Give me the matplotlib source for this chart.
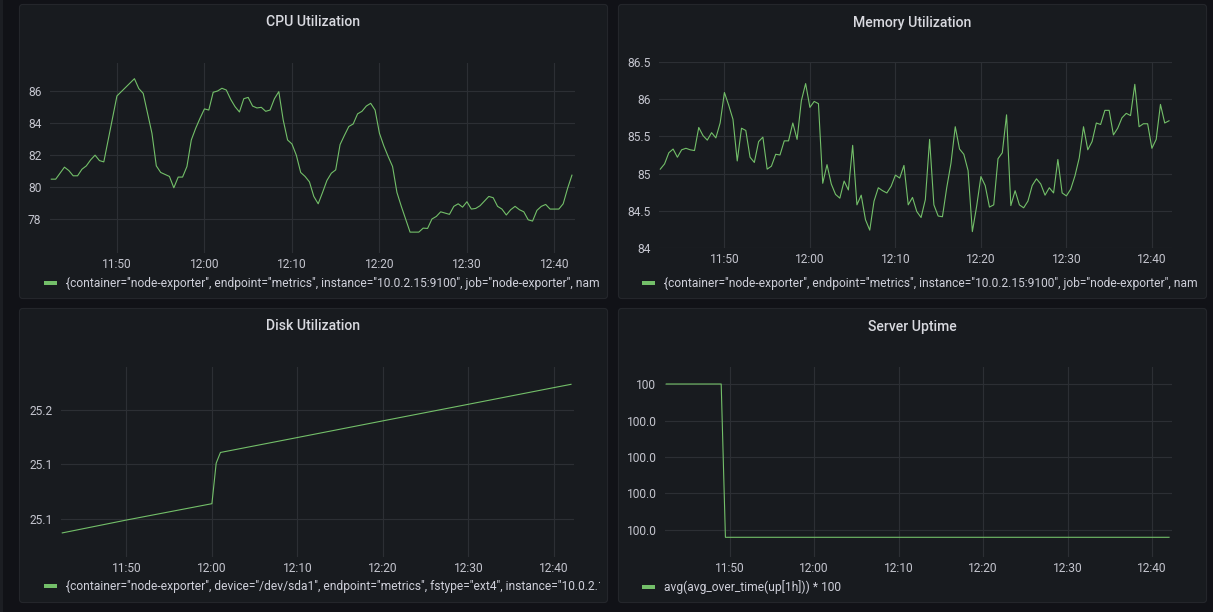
import datetime as dt
import matplotlib
matplotlib.use("Agg")
import matplotlib.pyplot as plt
import matplotlib.dates as mdates
from matplotlib.patches import FancyBboxPatch, Rectangle
from matplotlib.ticker import FuncFormatter, FixedLocator
from matplotlib.transforms import Bbox

# ---------------- data ----------------
day = dt.datetime(2023, 1, 1)
range_start = "11:42:21"
range_end = "12:42:21"
series_start = "11:42:30"
sample_step_s = 30

# CPU utilization (minutes after series start, value %)
cpu_minutes = [0, 0.5, 1.5, 2, 2.5, 3, 3.5, 4, 4.5, 5, 5.5, 6, 7.5, 8.5, 9.5, 10, 10.5, 11.5,
               12, 12.5, 13.5, 14, 14.5, 15, 15.5, 16, 16.5, 17, 17.5, 18, 18.5, 19, 19.5,
               20, 20.5, 21, 21.5, 22, 22.5, 23, 23.5, 24, 24.5, 25, 25.5, 26, 26.5, 27,
               27.5, 28, 28.5, 29, 29.5, 30, 30.5, 31, 31.5, 32, 32.5, 33, 33.5, 34, 34.5,
               35, 35.5, 36, 36.5, 37, 37.5, 38, 38.5, 39, 39.5, 40, 41, 42, 42.5, 43, 43.5,
               44, 44.5, 45, 45.5, 46, 46.5, 47, 47.5, 48, 48.5, 49, 49.5, 50, 50.5, 51,
               51.5, 52, 52.5, 53, 53.5, 54, 54.5, 55, 55.5, 56, 56.5, 57, 57.5, 58, 58.5,
               59, 59.5]
cpu_values = [80.49, 80.49, 81.24, 81.03, 80.70, 80.70, 81.11, 81.32, 81.70, 81.99, 81.65, 81.57,
              85.69, 86.23, 86.77, 86.15, 85.85, 83.36, 81.32, 80.91, 80.66, 79.95, 80.62,
              80.62, 81.28, 82.94, 83.67, 84.30, 84.88, 84.81, 85.92, 86.00, 86.17, 86.06,
              85.48, 85.02, 84.69, 85.52, 85.60, 85.06, 84.94, 84.98, 84.73, 84.81, 85.52,
              85.96, 84.19, 82.94, 82.69, 81.99, 80.91, 80.66, 80.32, 79.41, 78.95, 79.66,
              80.41, 80.86, 81.07, 82.65, 83.23, 83.78, 83.94, 84.57, 84.73, 85.06, 85.23,
              84.81, 83.36, 82.57, 81.90, 81.28, 79.66, 78.79, 77.18, 77.18, 77.43, 77.41,
              78.00, 78.16, 78.45, 78.37, 78.29, 78.79, 78.95, 78.74, 79.08, 78.62, 78.66,
              78.83, 79.12, 79.41, 79.33, 78.79, 78.62, 78.25, 78.58, 78.79, 78.58, 78.45,
              77.95, 77.87, 78.54, 78.79, 78.91, 78.62, 78.62, 78.62, 78.95, 79.91, 80.74]

# Memory utilization (one sample every 30 s from series start)
mem_values = [85.06, 85.13, 85.28, 85.33, 85.22, 85.32, 85.34, 85.32, 85.31, 85.62,
              85.51, 85.45, 85.55, 85.48, 85.68, 86.09, 85.92, 85.73, 85.17, 85.61,
              85.58, 85.22, 85.15, 85.43, 85.49, 85.06, 85.10, 85.26, 85.25, 85.44,
              85.44, 85.68, 85.46, 85.98, 86.21, 85.89, 85.97, 85.94, 84.87, 85.12,
              84.86, 84.72, 84.67, 84.90, 84.78, 85.38, 84.58, 84.71, 84.38, 84.24,
              84.63, 84.81, 84.77, 84.74, 84.83, 84.98, 84.94, 85.11, 84.58, 84.68,
              84.49, 84.41, 84.65, 85.46, 84.58, 84.43, 84.42, 84.81, 85.14, 85.63,
              85.33, 85.26, 85.04, 84.22, 84.56, 84.96, 84.84, 84.55, 84.58, 85.20,
              85.28, 85.79, 84.57, 84.77, 84.58, 84.54, 84.63, 84.84, 84.93, 84.86,
              84.71, 84.81, 84.74, 85.19, 84.74, 84.70, 84.79, 84.97, 85.21, 85.63,
              85.32, 85.43, 85.68, 85.66, 85.85, 85.85, 85.52, 85.61, 85.75, 85.81,
              85.78, 86.20, 85.63, 85.67, 85.67, 85.34, 85.46, 85.93, 85.68, 85.71]

# Disk utilization (minutes after series start, value %)
disk_minutes = [0, 7.5, 17.5, 18, 18.5, 27.5, 37.5, 47.5, 57.5, 59.5]
disk_values = [25.0872, 25.0990, 25.1140, 25.1512, 25.1610, 25.1747, 25.1900, 25.2052, 25.2205, 25.2235]

# Server uptime (minutes after series start, value)
uptime_minutes = [0, 6.5, 7.0, 59.5]
uptime_values = [100.0, 100.0, 99.9999999958, 99.9999999958]
uptime_ticks = [99.999999996, 99.999999997, 99.999999998, 99.999999999, 100.0]

cpu_ticks = [78, 80, 82, 84, 86]
mem_ticks = [84, 84.5, 85, 85.5, 86, 86.5]
disk_ticks = [25.10, 25.15, 25.20]

titles = ["CPU Utilization", "Memory Utilization", "Disk Utilization", "Server Uptime"]
legend_cpu = ('{container="node-exporter", endpoint="metrics", instance="10.0.2.15:9100", '
              'job="node-exporter", namespace="monitoring", pod="node-exporter", service="node-exporter"}')
legend_mem = legend_cpu
legend_disk = ('{container="node-exporter", device="/dev/sda1", endpoint="metrics", fstype="ext4", '
               'instance="10.0.2.15:9100", job="node-exporter", mountpoint="/"}')
legend_up = 'avg(avg_over_time(up[1h])) * 100'

# ---------------- helpers ----------------
def at(hms):
    h, m, s = (int(p) for p in hms.split(":"))
    return day.replace(hour=h, minute=m, second=s)

t0 = at(series_start)
cpu_t = [t0 + dt.timedelta(minutes=m) for m in cpu_minutes]
mem_t = [t0 + dt.timedelta(seconds=sample_step_s * i) for i in range(len(mem_values))]
disk_t = [t0 + dt.timedelta(minutes=m) for m in disk_minutes]
up_t = [t0 + dt.timedelta(minutes=m) for m in uptime_minutes]

W, H = 1213, 612
BG = "#111217"
PANEL = "#181b1f"
PANEL_EDGE = "#24262b"
GRID = "#2c2f34"
TICK_C = "#c4c5ce"
TITLE_C = "#d8d9df"
LEG_C = "#cfd0da"
GREEN = "#73bf69"
FONT = ["Roboto", "DejaVu Sans"]
PX = 0.72  # points per pixel at 100 dpi

plt.rcParams["font.family"] = FONT

fig = plt.figure(figsize=(W / 100, H / 100), dpi=100, facecolor=BG)

bg = fig.add_axes([0, 0, 1, 1], zorder=0)
bg.set_xlim(0, W)
bg.set_ylim(H, 0)
bg.axis("off")
bg.add_patch(Rectangle((0, 0), 3, H, facecolor="#1c1e23", edgecolor="none"))

panels = [(19, 4, 608, 299), (618, 4, 1207, 299), (19, 308, 608, 603), (618, 308, 1207, 603)]
for (x0, y0, x1, y1), title in zip(panels, titles):
    bg.add_patch(FancyBboxPatch((x0 + 0.5, y0 + 0.5), x1 - x0 - 1, y1 - y0 - 1,
                                boxstyle="round,pad=0,rounding_size=3",
                                facecolor=PANEL, edgecolor=PANEL_EDGE, linewidth=0.8))
    bg.text((x0 + x1) / 2, y0 + 18.5, title, ha="center", va="center", color=TITLE_C,
            fontsize=14 * PX, fontweight="medium")

legends = [(legend_cpu, 44, 283, 600), (legend_mem, 642, 283, 1198),
           (legend_disk, 44, 586, 600), (legend_up, 642, 587, 1198)]
for text, lx, ly, clip_x in legends:
    bg.add_patch(Rectangle((lx, ly - 2), 13, 4, facecolor=GREEN, edgecolor="none"))
    t = bg.text(lx + 22, ly, text, ha="left", va="center", color=LEG_C, fontsize=12 * PX)
    t.set_clip_box(Bbox([[lx, H - ly - 10], [clip_x, H - ly + 10]]))
    t.set_clip_on(True)


def add_ax(l, t, r, b):
    ax = fig.add_axes([l / W, 1 - b / H, (r - l) / W, (b - t) / H], zorder=2)
    ax.set_facecolor("none")
    for s in ax.spines.values():
        s.set_visible(False)
    ax.grid(True, color=GRID, linewidth=0.8)
    ax.set_axisbelow(True)
    ax.tick_params(length=0, colors=TICK_C, labelsize=12 * PX)
    ax.tick_params(axis="y", pad=6.2)
    ax.tick_params(axis="x", pad=3.5)
    ax.xaxis.set_major_locator(mdates.MinuteLocator(byminute=range(0, 60, 10)))
    ax.xaxis.set_major_formatter(mdates.DateFormatter("%H:%M"))
    ax.set_xlim(at(range_start), at(range_end))
    return ax


gfmt = FuncFormatter(lambda v, p: f"{v:g}")

ax1 = add_ax(50, 63, 575, 253)
ax1.plot(cpu_t, cpu_values, color=GREEN, linewidth=0.8)
ax1.set_ylim(75.875, 87.75)
ax1.yaxis.set_major_locator(FixedLocator(cpu_ticks))
ax1.yaxis.set_major_formatter(gfmt)

ax2 = add_ax(659, 62, 1172, 248)
ax2.plot(mem_t, mem_values, color=GREEN, linewidth=0.8)
ax2.set_ylim(84, 86.5)
ax2.yaxis.set_major_locator(FixedLocator(mem_ticks))
ax2.yaxis.set_major_formatter(gfmt)

ax3 = add_ax(61, 367, 574, 557)
ax3.plot(disk_t, disk_values, color=GREEN, linewidth=0.8)
ax3.set_ylim(25.0651, 25.2394)
ax3.yaxis.set_major_locator(FixedLocator(disk_ticks))
ax3.yaxis.set_major_formatter(FuncFormatter(lambda v, p: f"{v:.1f}"))

ax4 = add_ax(665, 367, 1172, 557)
ax4.plot(up_t, uptime_values, color=GREEN, linewidth=0.8)
ax4.set_ylim(100 - 4.74e-9, 100 + 0.466e-9)
ax4.yaxis.set_major_locator(FixedLocator(uptime_ticks))
ax4.yaxis.set_major_formatter(FuncFormatter(lambda v, p: "100" if v == 100.0 else f"{v:.1f}"))

fig.savefig("out.png", dpi=100, facecolor=BG)
